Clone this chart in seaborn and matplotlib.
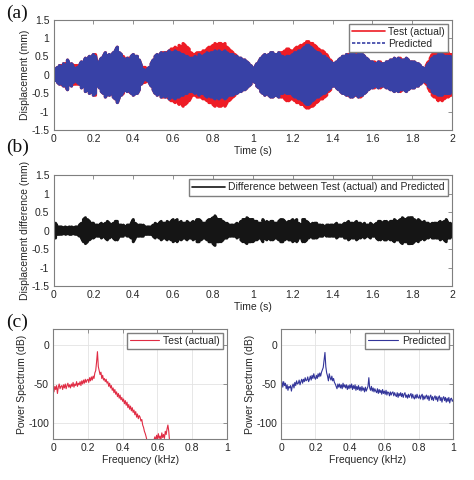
import numpy as np
import matplotlib
matplotlib.use("Agg")
import matplotlib.pyplot as plt
import seaborn as sns
from matplotlib.lines import Line2D

# ---------------- data ----------------
time_step = 0.01
# envelope amplitude of the predicted displacement (mm), every 0.01 s from 0 to 2 s
pred_amp = [
    0.05, 0.15, 0.2, 0.25, 0.2, 0.3, 0.25, 0.4, 0.25, 0.3,
    0.2, 0.15, 0.2, 0.25, 0.35, 0.3, 0.45, 0.4, 0.5, 0.45,
    0.55, 0.5, 0.2, 0.35, 0.45, 0.5, 0.6, 0.5, 0.55, 0.5,
    0.6, 0.65, 0.75, 0.6, 0.55, 0.45, 0.4, 0.45, 0.4, 0.5,
    0.55, 0.5, 0.5, 0.4, 0.25, 0.15, 0.1, 0.15, 0.2, 0.3,
    0.4, 0.5, 0.55, 0.5, 0.6, 0.55, 0.6, 0.55, 0.65, 0.6,
    0.6, 0.65, 0.6, 0.6, 0.55, 0.55, 0.5, 0.5, 0.45, 0.45,
    0.45, 0.5, 0.45, 0.55, 0.5, 0.5, 0.55, 0.6, 0.55, 0.6,
    0.6, 0.65, 0.6, 0.65, 0.6, 0.6, 0.65, 0.6, 0.55, 0.55,
    0.55, 0.5, 0.5, 0.45, 0.45, 0.4, 0.4, 0.35, 0.3, 0.25,
    0.15, 0.2, 0.3, 0.35, 0.45, 0.5, 0.55, 0.5, 0.55, 0.6,
    0.6, 0.55, 0.55, 0.6, 0.5, 0.5, 0.45, 0.5, 0.5, 0.5,
    0.55, 0.6, 0.6, 0.65, 0.65, 0.7, 0.75, 0.8, 0.8, 0.75,
    0.7, 0.65, 0.6, 0.6, 0.55, 0.5, 0.5, 0.45, 0.4, 0.35,
    0.3, 0.3, 0.35, 0.4, 0.45, 0.5, 0.5, 0.55, 0.5, 0.6,
    0.6, 0.55, 0.5, 0.6, 0.55, 0.55, 0.5, 0.45, 0.4, 0.35,
    0.35, 0.3, 0.3, 0.35, 0.3, 0.3, 0.3, 0.35, 0.35, 0.4,
    0.4, 0.45, 0.4, 0.45, 0.4, 0.4, 0.4, 0.45, 0.4, 0.35,
    0.35, 0.35, 0.3, 0.3, 0.25, 0.2, 0.15, 0.2, 0.3, 0.35,
    0.45, 0.5, 0.5, 0.55, 0.55, 0.55, 0.5, 0.5, 0.5, 0.5,
    0.45,
]
# envelope amplitude of the measured (test) displacement (mm)
test_amp = [
    0.05, 0.15, 0.2, 0.25, 0.25, 0.3, 0.3, 0.4, 0.25, 0.3,
    0.25, 0.25, 0.25, 0.25, 0.35, 0.3, 0.45, 0.4, 0.5, 0.45,
    0.55, 0.55, 0.2, 0.35, 0.45, 0.5, 0.6, 0.5, 0.55, 0.5,
    0.6, 0.65, 0.75, 0.6, 0.55, 0.5, 0.4, 0.45, 0.45, 0.5,
    0.55, 0.5, 0.5, 0.4, 0.25, 0.2, 0.2, 0.15, 0.2, 0.3,
    0.4, 0.5, 0.55, 0.5, 0.6, 0.6, 0.6, 0.6, 0.65, 0.7,
    0.7, 0.75, 0.7, 0.8, 0.75, 0.85, 0.8, 0.75, 0.7, 0.6,
    0.55, 0.55, 0.6, 0.6, 0.6, 0.65, 0.65, 0.7, 0.75, 0.75,
    0.8, 0.85, 0.8, 0.85, 0.85, 0.8, 0.85, 0.75, 0.7, 0.65,
    0.6, 0.55, 0.5, 0.45, 0.45, 0.4, 0.4, 0.35, 0.3, 0.25,
    0.15, 0.2, 0.3, 0.35, 0.45, 0.5, 0.55, 0.5, 0.55, 0.6,
    0.6, 0.55, 0.55, 0.6, 0.6, 0.6, 0.65, 0.7, 0.7, 0.65,
    0.65, 0.7, 0.75, 0.75, 0.8, 0.8, 0.85, 0.9, 0.9, 0.85,
    0.85, 0.8, 0.75, 0.7, 0.65, 0.65, 0.6, 0.55, 0.45, 0.4,
    0.3, 0.3, 0.35, 0.4, 0.45, 0.5, 0.5, 0.55, 0.55, 0.6,
    0.6, 0.55, 0.55, 0.6, 0.6, 0.55, 0.5, 0.45, 0.4, 0.35,
    0.35, 0.35, 0.3, 0.35, 0.35, 0.3, 0.3, 0.35, 0.35, 0.4,
    0.4, 0.45, 0.4, 0.45, 0.45, 0.4, 0.4, 0.45, 0.4, 0.35,
    0.35, 0.35, 0.3, 0.3, 0.25, 0.2, 0.15, 0.25, 0.35, 0.45,
    0.55, 0.6, 0.6, 0.7, 0.65, 0.7, 0.65, 0.6, 0.6, 0.55,
    0.55,
]
# envelope amplitude of the difference (mm)
diff_amp = [
    0.15, 0.2, 0.1, 0.1, 0.1, 0.08, 0.1, 0.08, 0.1, 0.1,
    0.08, 0.1, 0.1, 0.15, 0.2, 0.3, 0.35, 0.3, 0.25, 0.2,
    0.2, 0.15, 0.15, 0.15, 0.2, 0.15, 0.2, 0.25, 0.2, 0.15,
    0.2, 0.25, 0.25, 0.15, 0.15, 0.15, 0.1, 0.15, 0.15, 0.2,
    0.3, 0.2, 0.15, 0.15, 0.15, 0.15, 0.1, 0.1, 0.1, 0.1,
    0.15, 0.2, 0.15, 0.2, 0.25, 0.2, 0.2, 0.25, 0.2, 0.25,
    0.3, 0.25, 0.3, 0.2, 0.25, 0.2, 0.2, 0.25, 0.2, 0.2,
    0.25, 0.2, 0.3, 0.3, 0.25, 0.2, 0.2, 0.25, 0.3, 0.3,
    0.35, 0.4, 0.3, 0.3, 0.3, 0.25, 0.2, 0.2, 0.15, 0.15,
    0.15, 0.15, 0.2, 0.15, 0.25, 0.3, 0.3, 0.35, 0.3, 0.3,
    0.3, 0.25, 0.25, 0.2, 0.2, 0.3, 0.2, 0.25, 0.2, 0.25,
    0.25, 0.2, 0.2, 0.25, 0.3, 0.3, 0.25, 0.2, 0.25, 0.25,
    0.3, 0.25, 0.3, 0.2, 0.15, 0.3, 0.3, 0.25, 0.2, 0.15,
    0.2, 0.2, 0.2, 0.15, 0.15, 0.15, 0.1, 0.15, 0.15, 0.15,
    0.15, 0.15, 0.2, 0.15, 0.15, 0.15, 0.2, 0.2, 0.25, 0.2,
    0.2, 0.2, 0.25, 0.2, 0.2, 0.15, 0.2, 0.15, 0.15, 0.2,
    0.15, 0.15, 0.2, 0.25, 0.25, 0.2, 0.25, 0.25, 0.2, 0.25,
    0.25, 0.3, 0.25, 0.25, 0.3, 0.35, 0.3, 0.3, 0.35, 0.35,
    0.35, 0.3, 0.25, 0.3, 0.25, 0.2, 0.25, 0.2, 0.2, 0.15,
    0.2, 0.2, 0.2, 0.2, 0.25, 0.2, 0.25, 0.3, 0.2, 0.2,
    0.15,
]

freq_step = 0.005  # kHz
# power spectrum of test signal (dB), 0 to 0.70 kHz
test_psd = [
    -55, -60, -53, -57, -52, -62, -54, -50, -56, -53,
    -52, -57, -51, -55, -50, -56, -52, -49, -54, -51,
    -55, -50, -53, -48, -54, -50, -52, -47, -53, -49,
    -51, -47, -52, -46, -50, -45, -49, -44, -48, -45,
    -44, -48, -42, -46, -41, -45, -40, -43, -36, -33,
    -22, -9, -28, -33, -38, -35, -43, -39, -45, -43,
    -47, -44, -49, -47, -53, -49, -55, -52, -58, -55,
    -61, -57, -63, -60, -66, -62, -68, -64, -70, -67,
    -72, -69, -75, -71, -77, -73, -80, -76, -82, -78,
    -84, -80, -86, -83, -89, -85, -92, -88, -94, -90,
    -92, -97, -95, -102, -105, -110, -113, -117, -122, -128,
    -130, -130, -130, -130, -126, -130, -121, -117, -122, -115,
    -120, -113, -119, -116, -121, -112, -118, -114, -119, -110,
    -114, -107, -102, -110, -124, -130, -130, -130, -130, -130,
    -130,
]
# power spectrum of predicted signal (dB), 0 to 1 kHz
pred_psd = [
    -50, -47, -54, -47, -52, -49, -56, -51, -58, -53,
    -55, -52, -59, -53, -50, -55, -48, -52, -46, -50,
    -49, -45, -51, -47, -44, -49, -44, -47, -42, -46,
    -45, -41, -47, -44, -40, -45, -39, -43, -37, -42,
    -44, -39, -43, -37, -41, -36, -40, -35, -32, -29,
    -20, -10, -28, -36, -40, -46, -37, -42, -45, -40,
    -46, -43, -48, -50, -53, -56, -50, -54, -50, -55,
    -51, -56, -49, -54, -51, -55, -51, -57, -52, -56,
    -51, -55, -50, -57, -52, -56, -51, -58, -53, -57,
    -52, -58, -54, -59, -53, -58, -55, -60, -54, -59,
    -56, -53, -42, -55, -58, -53, -59, -55, -60, -56,
    -59, -61, -56, -62, -57, -61, -58, -63, -57, -62,
    -59, -63, -58, -64, -60, -61, -65, -60, -64, -61,
    -60, -65, -61, -64, -66, -61, -67, -62, -65, -61,
    -66, -62, -67, -63, -61, -67, -64, -68, -63, -67,
    -64, -62, -68, -63, -67, -69, -64, -68, -63, -67,
    -68, -64, -69, -65, -63, -70, -65, -69, -66, -64,
    -69, -65, -71, -66, -64, -70, -66, -71, -67, -65,
    -70, -66, -72, -67, -65, -71, -67, -73, -68, -66,
    -71, -67, -73, -68, -72, -67, -74, -69, -68, -72,
    -70,
]

time_ticks = [0, 0.2, 0.4, 0.6, 0.8, 1, 1.2, 1.4, 1.6, 1.8, 2]
disp_ticks = [-1.5, -1, -0.5, 0, 0.5, 1, 1.5]
freq_ticks = [0, 0.2, 0.4, 0.6, 0.8, 1]
db_ticks = [-100, -50, 0]

# ---------------- style ----------------
sns.set_theme(style="white")
plt.rcParams["font.family"] = ["Liberation Sans", "DejaVu Sans"]
plt.rcParams["axes.unicode_minus"] = False

RED = "#ee1c25"
BLUE = "#3841a6"
RED_C = "#e02c44"
BLUE_C = "#33359a"
TXT = "#262626"
EDGE = "#7f7f7f"


def serpentine(t, a):
    xs, ys = [], []
    for i, (ti, ai) in enumerate(zip(t, a)):
        if i % 2 == 0:
            xs += [ti, ti]
            ys += [ai, -ai]
        else:
            xs += [ti, ti]
            ys += [-ai, ai]
    return np.array(xs), np.array(ys)


def fmt(v):
    return f"{v:g}"


def style_axes(ax, xticks, yticks, grid=False):
    ax.set_xticks(xticks)
    ax.set_xticklabels([fmt(v) for v in xticks])
    ax.set_yticks(yticks)
    ax.set_yticklabels([fmt(v) for v in yticks])
    ax.tick_params(direction="in", length=3, width=0.6, colors=EDGE,
                   labelcolor=TXT, labelsize=7.5, top=True, right=True,
                   pad=3)
    for s in ax.spines.values():
        s.set_color(EDGE)
        s.set_linewidth(0.8)
    if grid:
        ax.grid(True, color="#e3e3e3", lw=0.6)
    ax.xaxis.label.set_color(TXT)
    ax.yaxis.label.set_color(TXT)


fig = plt.figure(figsize=(4.74, 4.80), dpi=100)

# ---- (a)
ax_a = fig.add_axes([0.113, 0.729, 0.841, 0.230])
t = np.arange(len(pred_amp)) * time_step
xr, yr = serpentine(t, test_amp)
xb, yb = serpentine(t, pred_amp)
sns.lineplot(x=xr, y=yr, sort=False, estimator=None, color=RED, lw=2.4, ax=ax_a)
sns.lineplot(x=xb, y=yb, sort=False, estimator=None, color=BLUE, lw=2.4, ax=ax_a)
ax_a.set_xlim(0, 2)
ax_a.set_ylim(-1.5, 1.5)
ax_a.set_xlabel("Time (s)", fontsize=7.5, labelpad=1)
ax_a.set_ylabel("Displacement (mm)", fontsize=7.5, labelpad=1)
style_axes(ax_a, time_ticks, disp_ticks)
handles = [Line2D([], [], color=RED, lw=1.2),
           Line2D([], [], color=BLUE, lw=1.2, ls=(0, (2, 1)))]
ax_a.legend(handles, ["Test (actual)", "Predicted"], loc="upper right",
            fontsize=7.5, frameon=True, fancybox=False, edgecolor=EDGE,
            framealpha=1, borderpad=0.3, handlelength=3.2, handletextpad=0.3,
            labelspacing=0.2, borderaxespad=0.4)

# ---- (b)
ax_b = fig.add_axes([0.113, 0.404, 0.841, 0.231])
xd, yd = serpentine(t, diff_amp)
sns.lineplot(x=xd, y=yd, sort=False, estimator=None, color="#151515", lw=2.2, ax=ax_b)
ax_b.set_xlim(0, 2)
ax_b.set_ylim(-1.5, 1.5)
ax_b.set_xlabel("Time (s)", fontsize=7.5, labelpad=1)
ax_b.set_ylabel("Displacement difference (mm)", fontsize=7.5, labelpad=1)
style_axes(ax_b, time_ticks, disp_ticks)
ax_b.legend([Line2D([], [], color="#151515", lw=1.2)],
            ["Difference between Test (actual) and Predicted"],
            loc="upper right", fontsize=7.5, frameon=True, fancybox=False,
            edgecolor=EDGE, framealpha=1, borderpad=0.3, handlelength=3.2,
            handletextpad=0.3, borderaxespad=0.4)

# ---- (c) left
ax_c1 = fig.add_axes([0.112, 0.085, 0.367, 0.230])
f_test = np.arange(len(test_psd)) * freq_step
sns.lineplot(x=f_test, y=test_psd, sort=False, estimator=None, color=RED_C,
             lw=0.8, ax=ax_c1, label="Test (actual)")
ax_c1.set_xlim(0, 1)
ax_c1.set_ylim(-120, 20)
ax_c1.set_xlabel("Frequency (kHz)", fontsize=7.5, labelpad=1)
ax_c1.set_ylabel("Power Spectrum (dB)", fontsize=7.5, labelpad=1)
style_axes(ax_c1, freq_ticks, db_ticks, grid=True)
ax_c1.legend(loc="upper right", fontsize=7.5, frameon=True, fancybox=False,
             edgecolor=EDGE, framealpha=1, borderpad=0.3, handlelength=2.8,
             handletextpad=0.4, borderaxespad=0.4)

# ---- (c) right
ax_c2 = fig.add_axes([0.593, 0.085, 0.363, 0.230])
f_pred = np.arange(len(pred_psd)) * freq_step
sns.lineplot(x=f_pred, y=pred_psd, sort=False, estimator=None, color=BLUE_C,
             lw=0.8, ax=ax_c2, label="Predicted")
ax_c2.set_xlim(0, 1)
ax_c2.set_ylim(-120, 20)
ax_c2.set_xlabel("Frequency (kHz)", fontsize=7.5, labelpad=1)
ax_c2.set_ylabel("Power Spectrum (dB)", fontsize=7.5, labelpad=1)
style_axes(ax_c2, freq_ticks, db_ticks, grid=True)
ax_c2.legend(loc="upper right", fontsize=7.5, frameon=True, fancybox=False,
             edgecolor=EDGE, framealpha=1, borderpad=0.3, handlelength=2.8,
             handletextpad=0.4, borderaxespad=0.4)

# panel letters
for lab, y in [("(a)", 0.990), ("(b)", 0.712), ("(c)", 0.346)]:
    fig.text(0.012, y, lab, fontsize=14, family=["Liberation Serif", "DejaVu Serif"],
             va="top", ha="left", color="#111111")

fig.savefig("out.png", dpi=100)
